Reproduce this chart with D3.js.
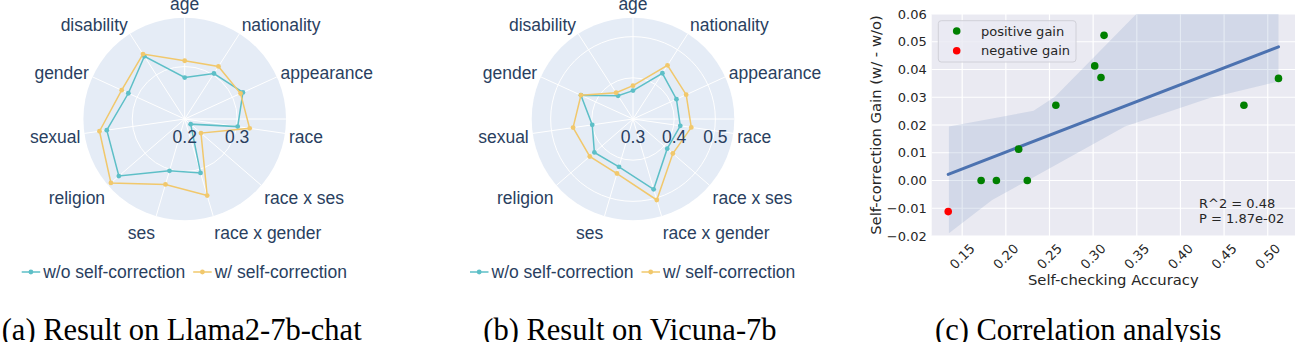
<!DOCTYPE html>
<meta charset="utf-8">
<script src="https://d3js.org/d3.v7.min.js"></script>
<style>
body { margin: 0; background: #fff; }
svg { display: block; }
.radar text { font-family: "Liberation Sans", Arial, sans-serif; fill: #2a3f5f; }
.corr text { font-family: "DejaVu Sans", sans-serif; fill: #262626; }
.caption { font-family: "Liberation Serif", "Times New Roman", serif; font-size: 30.5px; fill: #000; }
</style>
<body>
<div id="canvas"></div>
<script>

// categories of the radar charts (clockwise from top)
var categories = ["age", "nationality", "appearance", "race", "race x ses", "race x gender",
                  "ses", "religion", "sexual", "gender", "disability"];
var seriesNames = ["w/o self-correction", "w/ self-correction"];

// (a) Llama2-7b-chat
var llamaWo = [0.279, 0.303, 0.322, 0.302, 0.215, 0.307, 0.303, 0.366, 0.350, 0.318, 0.342];
var llamaW  = [0.311, 0.319, 0.317, 0.325, 0.241, 0.352, 0.330, 0.386, 0.364, 0.332, 0.347];
var llamaTicks = [0.2, 0.3];
var llamaRange = [0.2, 0.393];

// (b) Vicuna-7b
var vicunaWo = [0.369, 0.432, 0.416, 0.416, 0.410, 0.478, 0.421, 0.424, 0.400, 0.439, 0.367];
var vicunaW  = [0.381, 0.455, 0.442, 0.443, 0.428, 0.505, 0.438, 0.439, 0.447, 0.439, 0.376];
var vicunaTicks = [0.3, 0.4, 0.5];
var vicunaRange = [0.3, 0.546];

// (c) correlation
var accuracy = [0.134, 0.1717, 0.1892, 0.2147, 0.2246, 0.2573, 0.3018, 0.309, 0.3125, 0.4727, 0.5123];
var gain     = [-0.0112, 0.0, 0.0, 0.0113, 0.0, 0.0271, 0.0413, 0.0371, 0.0523, 0.0271, 0.0368];
var bandUpperX = [0.1348, 0.2318, 0.2566, 0.3498, 0.5123];
var bandUpperY = [0.0195, 0.0251, 0.0303, 0.0601, 0.0950];
var bandLowerX = [0.1348, 0.1843, 0.2261, 0.3364, 0.4335, 0.5123];
var bandLowerY = [-0.0190, -0.0070, 0.0002, 0.0195, 0.0297, 0.0357];
var xTicks = [0.15, 0.20, 0.25, 0.30, 0.35, 0.40, 0.45, 0.50];
var yTicks = [-0.02, -0.01, 0.00, 0.01, 0.02, 0.03, 0.04, 0.05, 0.06];
var legendLabels = ["positive gain", "negative gain"];
var statsText = ["R^2 = 0.48", "P = 1.87e-02"];

var captions = ["(a) Result on Llama2-7b-chat", "(b) Result on Vicuna-7b", "(c) Correlation analysis"];

var width = 1298, height = 342;
var svg = d3.select("#canvas").append("svg")
	.attr("width", width)
	.attr("height", height);

var colors = ["#5dbfc7", "#f1c86c"];

// radar ----------------------------------------------------------------
function radar(cx, cy, R, rRange, ticks, series) {
	var fs = 17.5, pad = 4;
	var g = svg.append("g").attr("class", "radar");
	var r = d3.scaleLinear().domain(rRange).range([0, R]);
	var n = categories.length;
	var ang = function(i) { return i * 2 * Math.PI / n; };
	var px = function(i, v) { return cx + r(v) * Math.sin(ang(i)); };
	var py = function(i, v) { return cy - r(v) * Math.cos(ang(i)); };

	g.append("circle").attr("cx", cx).attr("cy", cy).attr("r", R).attr("fill", "#E5ECF6");

	g.selectAll(".grid").data(ticks.filter(function(t) { return r(t) > 1 && r(t) < R; }))
		.enter().append("circle")
		.attr("cx", cx).attr("cy", cy).attr("r", function(d) { return r(d); })
		.attr("fill", "none").attr("stroke", "#fff").attr("stroke-width", 1);

	g.selectAll(".spoke").data(categories).enter().append("line")
		.attr("x1", cx).attr("y1", cy)
		.attr("x2", function(d, i) { return cx + R * Math.sin(ang(i)); })
		.attr("y2", function(d, i) { return cy - R * Math.cos(ang(i)); })
		.attr("stroke", "#fff").attr("stroke-width", 1);

	// radial axis line
	g.append("line").attr("x1", cx).attr("y1", cy).attr("x2", cx + R).attr("y2", cy)
		.attr("stroke", "#fff").attr("stroke-width", 1);

	// category labels (plotly-like placement)
	g.selectAll(".lab").data(categories).enter().append("text")
		.text(function(d) { return d; })
		.style("font-size", fs + "px")
		.attr("text-anchor", function(d, i) {
			var c = Math.sin(ang(i));
			return Math.abs(c) < 0.1 ? "middle" : (c > 0 ? "start" : "end");
		})
		.attr("x", function(d, i) { return cx + (R + pad) * Math.sin(ang(i)); })
		.attr("y", function(d, i) {
			var s = Math.cos(ang(i)), c = Math.sin(ang(i));
			var off = s > 0 ? 0.2 : 1;
			return cy - R * s - s * (pad + fs * off) + Math.abs(c) * fs * 0.35;
		});

	series.forEach(function(vals, k) {
		var pts = vals.map(function(v, i) { return [px(i, v), py(i, v)]; });
		g.append("path")
			.attr("d", d3.line().curve(d3.curveLinearClosed)(pts))
			.attr("fill", "none").attr("stroke", colors[k]).attr("stroke-width", 1.5);
		g.selectAll(".pt" + k).data(pts).enter().append("circle")
			.attr("cx", function(d) { return d[0]; }).attr("cy", function(d) { return d[1]; })
			.attr("r", 2.4).attr("fill", colors[k]);
	});

	// radial tick labels
	g.selectAll(".rt").data(ticks).enter().append("text")
		.text(function(d) { return d.toFixed(1); })
		.style("font-size", fs + "px")
		.attr("text-anchor", "middle")
		.attr("x", function(d) { return cx + r(d); })
		.attr("y", cy + 23.5);

	// legend
	var lx = [-163, 8.5];
	seriesNames.forEach(function(name, k) {
		var x0 = cx + lx[k];
		g.append("line").attr("x1", x0).attr("x2", x0 + 18.5).attr("y1", 272).attr("y2", 272)
			.attr("stroke", colors[k]).attr("stroke-width", 1.5);
		g.append("circle").attr("cx", x0 + 9.2).attr("cy", 272).attr("r", 2.4).attr("fill", colors[k]);
		g.append("text").text(name).style("font-size", fs + "px")
			.attr("x", x0 + 21.5).attr("y", 278);
	});
}

radar(184.7, 119, 101.3, llamaRange, llamaTicks, [llamaWo, llamaW]);
radar(633, 119, 101.3, vicunaRange, vicunaTicks, [vicunaWo, vicunaW]);

// correlation plot -----------------------------------------------------
var pL = 931.7, pR = 1295, pT = 14, pB = 236;
var cg = svg.append("g").attr("class", "corr");

var ext = d3.extent(accuracy);
var xm = 0.05 * (ext[1] - ext[0]);
var x = d3.scaleLinear().domain([ext[0] - xm, ext[1] + xm]).range([pL, pR]);
var y = d3.scaleLinear().domain([-0.02, 0.06]).range([pB, pT]);

cg.append("rect").attr("x", pL).attr("y", pT).attr("width", pR - pL).attr("height", pB - pT)
	.attr("fill", "#EAEAF2");

svg.append("defs").append("clipPath").attr("id", "clip")
	.append("rect").attr("x", pL).attr("y", pT).attr("width", pR - pL).attr("height", pB - pT);

cg.selectAll(".xg").data(xTicks).enter().append("line")
	.attr("x1", function(d) { return x(d); }).attr("x2", function(d) { return x(d); })
	.attr("y1", pT).attr("y2", pB).attr("stroke", "#fff").attr("stroke-width", 1.2);
cg.selectAll(".yg").data(yTicks).enter().append("line")
	.attr("y1", function(d) { return y(d); }).attr("y2", function(d) { return y(d); })
	.attr("x1", pL).attr("x2", pR).attr("stroke", "#fff").attr("stroke-width", 1.2);

// confidence band
var bandPts = bandUpperX.map(function(v, i) { return [x(v), y(bandUpperY[i])]; })
	.concat(bandLowerX.map(function(v, i) { return [x(v), y(bandLowerY[i])]; }).reverse());
cg.append("path")
	.attr("clip-path", "url(#clip)")
	.attr("d", "M" + bandPts.join("L") + "Z")
	.attr("fill", "#4c72b0").attr("fill-opacity", 0.15);

// least squares fit
var mx = d3.mean(accuracy), my = d3.mean(gain);
var sxy = d3.sum(accuracy, function(v, i) { return (v - mx) * (gain[i] - my); });
var sxx = d3.sum(accuracy, function(v) { return (v - mx) * (v - mx); });
var slope = sxy / sxx, icpt = my - slope * mx;
cg.append("line")
	.attr("x1", x(ext[0])).attr("y1", y(icpt + slope * ext[0]))
	.attr("x2", x(ext[1])).attr("y2", y(icpt + slope * ext[1]))
	.attr("stroke", "#4c72b0").attr("stroke-width", 3).attr("stroke-linecap", "round");

// points
cg.selectAll(".dot").data(accuracy).enter().append("circle")
	.attr("cx", function(d) { return x(d); })
	.attr("cy", function(d, i) { return y(gain[i]); })
	.attr("r", 3.8)
	.attr("fill", function(d, i) { return gain[i] < 0 ? "#ff0000" : "#008000"; });

// ticks
cg.selectAll(".yt").data(yTicks).enter().append("text")
	.text(function(d) { return (d < 0 ? "\u2212" : "") + Math.abs(d).toFixed(2); })
	.style("font-size", "13px")
	.attr("text-anchor", "end").attr("dominant-baseline", "central")
	.attr("x", pL - 5).attr("y", function(d) { return y(d); });
cg.selectAll(".xt").data(xTicks).enter().append("text")
	.text(function(d) { return d.toFixed(2); })
	.style("font-size", "13px")
	.attr("text-anchor", "middle").attr("dominant-baseline", "central")
	.attr("transform", function(d) { return "translate(" + x(d) + "," + 256.5 + ") rotate(-45)"; });

cg.append("text").text("Self-checking Accuracy").style("font-size", "14.8px")
	.attr("text-anchor", "middle").attr("x", (pL + pR) / 2).attr("y", 285);
cg.append("text").text("Self-correction Gain (w/ - w/o)").style("font-size", "14.8px")
	.attr("text-anchor", "middle")
	.attr("transform", "translate(881," + (pT + pB) / 2 + ") rotate(-90)");

// legend
cg.append("rect").attr("x", 938.3).attr("y", 20.7).attr("width", 137.7).attr("height", 41.3)
	.attr("rx", 3).attr("fill", "#EAEAF2").attr("fill-opacity", 0.8)
	.attr("stroke", "#d0d0d8").attr("stroke-width", 1);
legendLabels.forEach(function(lab, k) {
	var ly = 31 + k * 19.7;
	cg.append("circle").attr("cx", 956.7).attr("cy", ly).attr("r", 3.8)
		.attr("fill", k === 0 ? "#008000" : "#ff0000");
	cg.append("text").text(lab).style("font-size", "13px")
		.attr("x", 981).attr("y", ly).attr("dominant-baseline", "central");
});

statsText.forEach(function(t, k) {
	cg.append("text").text(t).style("font-size", "13px")
		.attr("x", 1199).attr("y", 208 + k * 14.7);
});

// captions
var capX = [1.7, 483.3, 935];
captions.forEach(function(c, k) {
	svg.append("text").attr("class", "caption").text(c).attr("x", capX[k]).attr("y", 340);
});

</script>
</body>
